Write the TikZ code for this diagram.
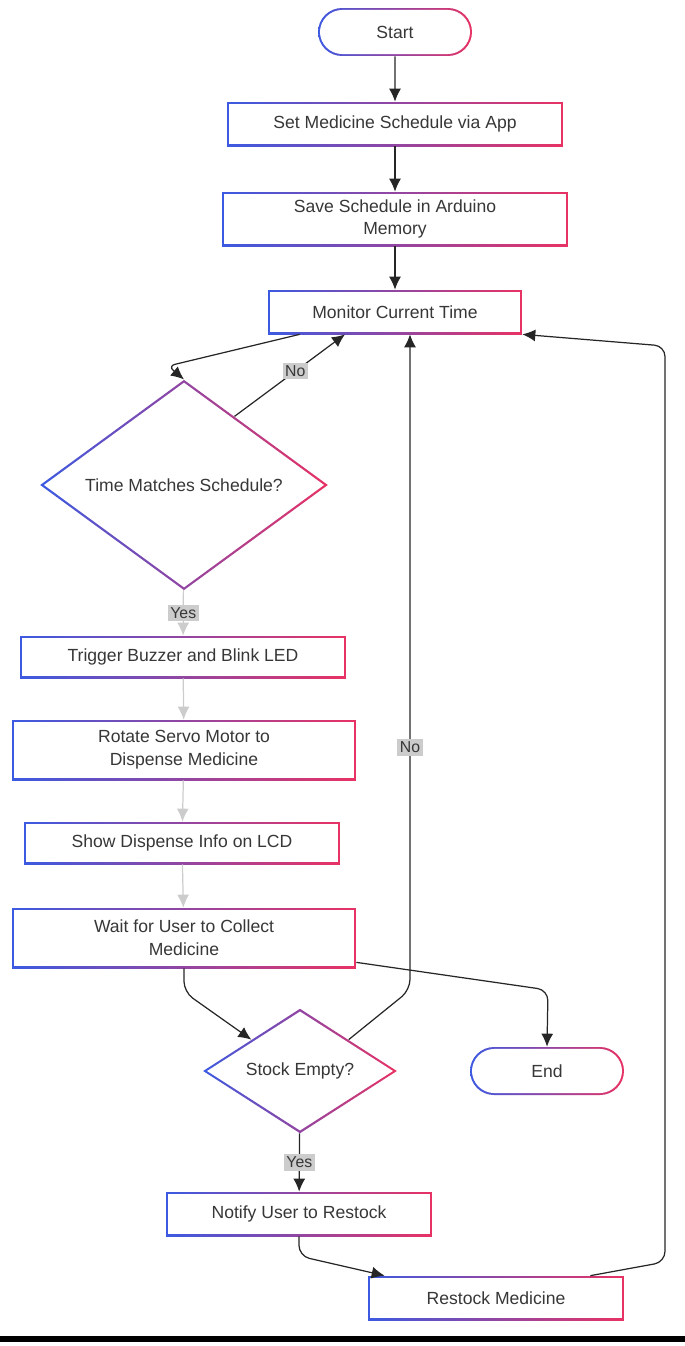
\documentclass[tikz,border=0pt]{standalone}
\usepackage{fontspec}
\setmainfont{Liberation Sans}
\usetikzlibrary{shapes.geometric,shapes.misc,calc,arrows.meta}
\definecolor{lblue}{RGB}{60,90,225}
\definecolor{lpink}{RGB}{232,50,100}
\definecolor{ltext}{RGB}{55,55,55}
\tikzset{
  grad/.style={left color=lblue,right color=lpink,text=ltext,font=\fontsize{10}{13}\selectfont,align=center,inner sep=0pt},
  proc/.style={grad,rectangle,
    path picture={\fill[white] ([shift={(1.1pt,1.1pt)}]path picture bounding box.south west) rectangle ([shift={(-1.1pt,-1.1pt)}]path picture bounding box.north east);}},
  term/.style={grad,rounded rectangle,minimum width=3.08cm,minimum height=0.96cm,
    path picture={\fill[white,rounded corners=0.45cm] ([shift={(1.1pt,1.1pt)}]path picture bounding box.south west) rectangle ([shift={(-1.1pt,-1.1pt)}]path picture bounding box.north east);}},
  test/.style={grad,diamond,
    path picture={\fill[white] ([yshift=-1.6pt]path picture bounding box.north) -- ([xshift=-2.2pt]path picture bounding box.east) -- ([yshift=1.6pt]path picture bounding box.south) -- ([xshift=2.2pt]path picture bounding box.west) -- cycle;}},
  arr/.style={-{Latex[length=2.6mm,width=2.4mm]},black!85,line width=0.7pt},
  garr/.style={arr,draw=gray!40},
  lbl/.style={sharp corners,fill=gray!40,text=ltext,font=\fontsize{9}{10}\selectfont,inner sep=1.5pt}
}
\begin{document}
\begin{tikzpicture}[x=0.02cm,y=-0.02cm]
  \useasboundingbox (0,0) rectangle (685,1346);
  \fill[black] (0,1336) rectangle (685,1342);

  % main column
  \node[term] (start) at (395,32) {Start};
  \node[proc,minimum width=6.72cm,minimum height=0.88cm] (set) at (395,124) {Set Medicine Schedule via App};
  \node[proc,minimum width=6.92cm,minimum height=1.08cm] (save) at (395,219) {Save Schedule in Arduino\\Memory};
  \node[proc,minimum width=5.08cm,minimum height=0.88cm] (mon) at (395,312) {Monitor Current Time};
  \node[test,minimum width=5.76cm,minimum height=3.6cm] (match) at (184,485) {Time Matches Schedule?};
  \node[proc,minimum width=6.52cm,minimum height=0.84cm] (trig) at (183,657) {Trigger Buzzer and Blink LED};
  \node[proc,minimum width=6.88cm,minimum height=1.2cm] (rot) at (184,750) {Rotate Servo Motor to\\Dispense Medicine};
  \node[proc,minimum width=6.32cm,minimum height=0.84cm] (show) at (182,843) {Show Dispense Info on LCD};
  \node[proc,minimum width=6.88cm,minimum height=1.2cm] (wait) at (184,938) {Wait for User to Collect\\Medicine};
  \node[test,minimum width=3.88cm,minimum height=2.44cm] (stock) at (300,1071) {Stock Empty?};
  \node[term] (end) at (547,1071) {End};
  \node[proc,minimum width=5.32cm,minimum height=0.88cm] (notify) at (299,1214) {Notify User to Restock};
  \node[proc,minimum width=5.12cm,minimum height=0.88cm] (rest) at (496,1298) {Restock Medicine};

  % connectors
  \draw[arr] (start) -- (set);
  \draw[arr] (set) -- (save);
  \draw[arr] (save) -- (mon);
  \draw[arr,rounded corners=4pt] ([xshift=.64cm]mon.south west) -- (168,366) -- (match.north);
  \draw[arr] ($(match.north)!0.35!(match.east)$) -- node[lbl,pos=0.55] {No} ([xshift=-1cm]mon.south);
  \draw[garr] (match) -- node[lbl] {Yes} (trig);
  \draw[garr] (trig) -- (rot);
  \draw[garr] (rot) -- (show);
  \draw[garr] (show) -- (wait);
  \draw[arr,rounded corners=6pt] (wait.south) -- (184,992) -- ($(stock.north)!0.5!(stock.west)$);
  \draw[arr,rounded corners=6pt] ([yshift=.12cm]wait.south east) -- (548,990) -- (end.north);
  \draw[arr,rounded corners=6pt] ($(stock.north)!0.5!(stock.east)$) -- (410,990) -- node[lbl,pos=0.37] {No} ([xshift=.3cm]mon.south);
  \draw[arr] (stock) -- node[lbl] {Yes} (notify);
  \draw[arr,rounded corners=6pt] (notify.south) -- (299,1256) -- ([xshift=.34cm]rest.north west);
  \draw[arr,rounded corners=6pt] ([xshift=-.68cm]rest.north east) -- (665,1262) -- (665,346) -- (mon.south east);
\end{tikzpicture}
\end{document}
